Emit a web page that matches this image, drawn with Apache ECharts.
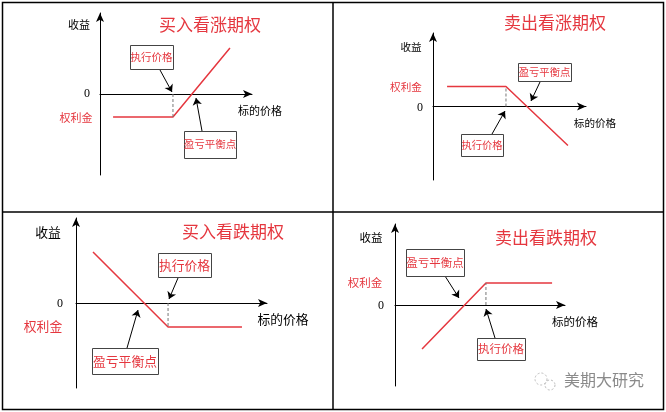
<!DOCTYPE html>
<html><head><meta charset="utf-8">
<script src="https://cdn.jsdelivr.net/npm/echarts@6/dist/echarts.min.js"></script>
<style>html,body{margin:0;padding:0;background:#fff}#c{width:666px;height:412px}</style>
</head><body><div id="c"></div>
<script>
// ---- data ----
const titles = ['买入看涨期权', '卖出看涨期权', '买入看跌期权', '卖出看跌期权'];
const yName = '收益';
const xName = '标的价格';
const premiumName = '权利金';
const strikeName = '执行价格';
const breakevenName = '盈亏平衡点';
const zeroLabel = '0';
const watermark = '美期大研究';
// payoff lines: x = underlying price (0..10), y = profit (-10..10)
const buyCallX = [0.86, 4.8, 8.55];
const buyCallY = [-2.84, -2.84, 5.68];
const sellCallX = [0.92, 4.77, 8.82];
const sellCallY = [2.72, 2.72, -5.31];
const buyPutX = [0.89, 4.82, 8.69];
const buyPutY = [6.0, -2.82, -2.82];
const sellPutX = [1.59, 5.35, 9.24];
const sellPutY = [-5.43, 2.72, 2.72];
const strikes = [4.8, 4.77, 4.82, 5.35];
const premiums = [-2.84, 2.72, -2.82, 2.72];

const RED = '#e5373f';
const CJK = '"Noto Sans CJK SC", sans-serif';

const pays = [[buyCallX, buyCallY], [sellCallX, sellCallY], [buyPutX, buyPutY], [sellPutX, sellPutY]];

// layout
const grids = [
  {left: 100, top: 13, width: 152, height: 162},
  {left: 433, top: 33, width: 153, height: 147},
  {left: 76, top: 218, width: 191, height: 170},
  {left: 395, top: 224, width: 170, height: 162}
];
const panelText = [
  {fs: 11, title: [210, 25], y: [79, 25], zero: [87, 94], x: [260, 111], prem: [76, 118],
   strikeBox: [130, 45, 43, 24], beBox: [184, 131, 52, 27], bfs: 10.5,
   strikeArrow: [[160, 70], [172, 92]], beArrow: [[202, 131], [196, 98]]},
  {fs: 10.6, title: [555, 23], y: [411, 47], zero: [420, 108], x: [595, 123], prem: [406, 87],
   strikeBox: [461, 134, 42, 22], beBox: [518, 63, 53, 18], bfs: 10.3,
   strikeArrow: [[492, 134], [505, 111]], beArrow: [[540, 82], [531, 101]]},
  {fs: 12.8, title: [233, 232], y: [48, 232], zero: [60, 304], x: [283, 319], prem: [43, 326],
   strikeBox: [158, 253, 53, 24], beBox: [92, 348, 66, 26], bfs: 12.8,
   strikeArrow: [[178, 278], [169, 299]], beArrow: [[127, 348], [138, 310]]},
  {fs: 11.5, title: [546, 238], y: [371, 238], zero: [381, 306], x: [575, 322], prem: [365, 283],
   strikeBox: [477, 338, 48, 22], beBox: [406, 249, 58, 27], bfs: 11.5,
   strikeArrow: [[495, 338], [486, 309]], beArrow: [[445, 276], [459, 298]]}
];

const xAxes = [], yAxes = [], series = [], graphics = [];
grids.forEach((g, i) => {
  xAxes.push({type: 'value', gridIndex: i, min: 0, max: 10,
    axisLine: {show: true, onZero: true, symbol: ['none', 'arrow'], symbolSize: [6, 9], lineStyle: {color: '#000', width: 1}},
    axisTick: {show: false}, axisLabel: {show: false}, splitLine: {show: false}});
  yAxes.push({type: 'value', gridIndex: i, min: -10, max: 10,
    axisLine: {show: true, onZero: true, symbol: ['none', 'arrow'], symbolSize: [6, 9], lineStyle: {color: '#000', width: 1}},
    axisTick: {show: false}, axisLabel: {show: false}, splitLine: {show: false}});
  const [px, py] = pays[i];
  series.push({type: 'line', xAxisIndex: i, yAxisIndex: i, data: px.map((x, k) => [x, py[k]]),
    showSymbol: false, lineStyle: {color: RED, width: 1.5}, silent: true, animation: false});
  const t = panelText[i];
  series.push({type: 'line', xAxisIndex: i, yAxisIndex: i,
    data: [[strikes[i], 0], [strikes[i], premiums[i]]],
    showSymbol: false, lineStyle: {color: '#777', width: 1, type: [3, 2]}, silent: true, animation: false,
    markLine: {silent: true, animation: false, symbol: ['none', 'arrow'], symbolSize: 7,
      label: {show: false}, lineStyle: {color: '#000', width: 1, type: 'solid'},
      data: [
        [{x: t.strikeArrow[0][0], y: t.strikeArrow[0][1]}, {x: t.strikeArrow[1][0], y: t.strikeArrow[1][1]}],
        [{x: t.beArrow[0][0], y: t.beArrow[0][1]}, {x: t.beArrow[1][0], y: t.beArrow[1][1]}]
      ]}});
  const txt = (s, pos, fs, fill, font) => graphics.push({type: 'text', z: 10, silent: true,
    style: {text: s, x: pos[0], y: pos[1], fill: fill, fontSize: fs, fontFamily: font || CJK, align: 'center', verticalAlign: 'middle'}});
  txt(titles[i], t.title, 17, RED);
  txt(yName, t.y, t.fs, '#000');
  txt(xName, t.x, t.fs, '#000');
  txt(premiumName, t.prem, t.fs, RED);
  txt(zeroLabel, t.zero, 12, '#000', '"Liberation Serif", serif');
  [[t.strikeBox, strikeName], [t.beBox, breakevenName]].forEach(([b, s]) => {
    graphics.push({type: 'rect', z: 9, silent: true, shape: {x: b[0] + 0.5, y: b[1] + 0.5, width: b[2], height: b[3]},
      style: {fill: '#fff', stroke: '#444', lineWidth: 1}});
    txt(s, [b[0] + b[2] / 2, b[1] + b[3] / 2], t.bfs, RED);
  });
});

// frame
graphics.push({type: 'rect', silent: true, shape: {x: 2.5, y: 2.5, width: 661, height: 407}, style: {fill: 'none', stroke: '#000', lineWidth: 1.5}});
graphics.push({type: 'line', silent: true, shape: {x1: 333, y1: 2, x2: 333, y2: 409}, style: {stroke: '#000', lineWidth: 1.5}});
graphics.push({type: 'line', silent: true, shape: {x1: 2, y1: 212, x2: 663, y2: 212}, style: {stroke: '#000', lineWidth: 1.5}});
// watermark
graphics.push({type: 'circle', silent: true, shape: {cx: 541, cy: 379, r: 6}, style: {fill: 'none', stroke: '#bbb', lineWidth: 1, lineDash: [2, 2]}});
graphics.push({type: 'circle', silent: true, shape: {cx: 550, cy: 385, r: 5}, style: {fill: 'none', stroke: '#bbb', lineWidth: 1, lineDash: [2, 2]}});
graphics.push({type: 'text', silent: true, style: {text: watermark, x: 604, y: 380, fill: '#8a8a8a', fontSize: 16, fontFamily: CJK, align: 'center', verticalAlign: 'middle'}});

const chart = echarts.init(document.getElementById('c'), null, {renderer: 'canvas'});
chart.setOption({
  animation: false,
  backgroundColor: '#fff',
  grid: grids,
  xAxis: xAxes,
  yAxis: yAxes,
  series: series,
  graphic: graphics
});
</script></body></html>
